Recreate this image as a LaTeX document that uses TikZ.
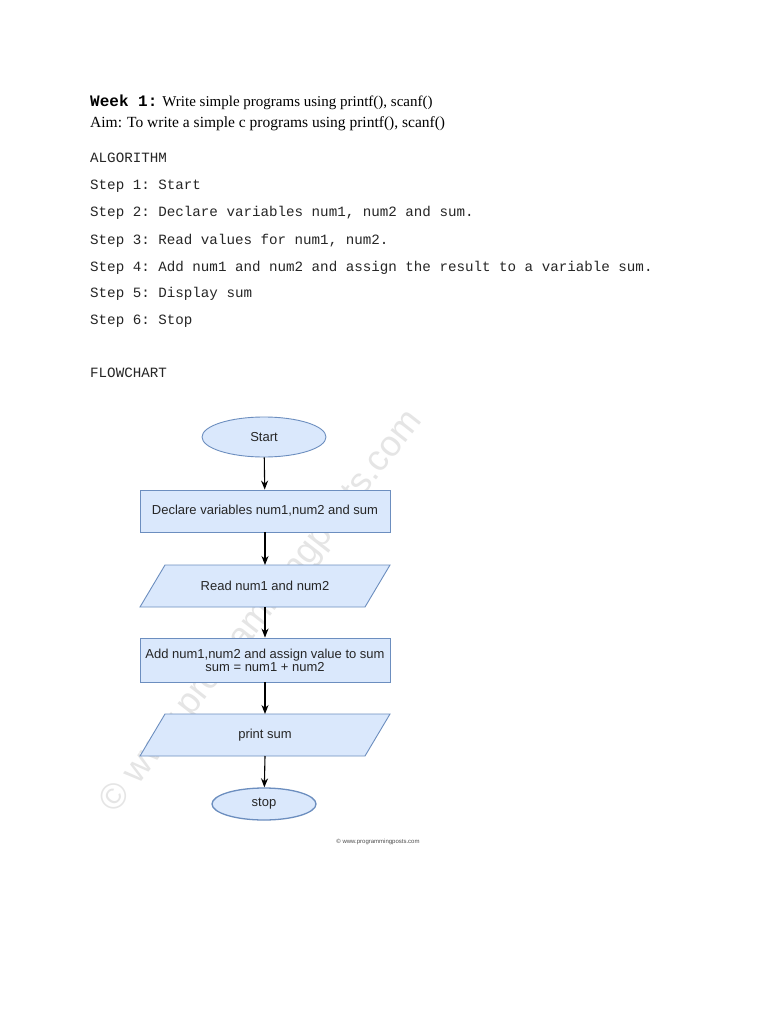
\documentclass[tikz,border=0pt]{standalone}
\usepackage{fontspec}
\setmainfont{Liberation Serif}
\setmonofont{Liberation Mono}
\newfontfamily\arialf{Liberation Sans}
\usetikzlibrary{shapes.geometric,calc,arrows.meta}
\definecolor{fcfill}{HTML}{DAE8FC}
\definecolor{fcdraw}{HTML}{6C8EBF}
\begin{document}
\begin{tikzpicture}[x=1pt,y=-1pt,
  mono/.style={anchor=base west,inner sep=0,font=\ttfamily\fontsize{14.2}{15}\selectfont,text=black!85},
  fc/.style={fill=fcfill,draw=fcdraw,line width=0.9pt},
  lab/.style={font=\arialf\fontsize{13}{15}\selectfont,align=center,text=black!85},
  arr/.style={-{Stealth[length=9pt,width=7pt]},line width=1.1pt}]
\useasboundingbox (0,0) rectangle (768,1024);
\fill[white] (0,0) rectangle (768,1024);
\node[anchor=base west,inner sep=0] (wk) at (90,107) {\textbf{\ttfamily\fontsize{16}{17}\selectfont Week 1:}\ \ {\fontsize{15}{16}\selectfont Write simple programs using printf(), scanf()}};
\node[anchor=base west,inner sep=0,font=\fontsize{15.5}{16}\selectfont] (aim) at (90,128) {Aim: To write a simple c programs using printf(), scanf()};
\node[mono] (alg) at (90,163) {ALGORITHM};
\node[mono] (s1) at (90,190) {Step 1: Start};
\node[mono] (s2) at (90,217) {Step 2: Declare variables num1, num2 and sum.};
\node[mono] (s3) at (90,244) {Step 3: Read values for num1, num2.};
\node[mono] (s4) at (90,271) {Step 4: Add num1 and num2 and assign the result to a variable sum.};
\node[mono] (s5) at (90,297) {Step 5: Display sum};
\node[mono] (s6) at (90,324) {Step 6: Stop};
\node[mono] (fcl) at (90,377) {FLOWCHART};
% watermark
\node[rotate=52,text=black!10,font=\arialf\fontsize{36}{40}\selectfont] (wm) at (262,612) {\textcopyright\ www.programmingposts.com};
% flowchart
\node[fc,ellipse,minimum width=124,minimum height=40,lab] (start) at (264,437) {Start};
\node[fc,rectangle,minimum width=250,minimum height=42,lab] (decl) at (265,511) {Declare variables num1,num2 and sum};
\draw[fc] (165,565) -- (390,565) -- (365,607) -- (140,607) -- cycle;
\node[lab] (read) at (265,586) {Read num1 and num2};
\node[fc,rectangle,minimum width=250,minimum height=44,lab] (add) at (265,660) {Add num1,num2 and assign value to sum\\[-2pt]sum = num1 + num2};
\draw[fc] (165,714) -- (390,714) -- (365,756) -- (140,756) -- cycle;
\node[lab] (prt) at (265,735) {print sum};
\node[fc,ellipse,minimum width=104,minimum height=32,lab,line width=1.3pt] (stop) at (264,804) {stop};
\node[font=\arialf\fontsize{6}{7}\selectfont,text=black!70] (cr) at (378,842) {\textcopyright\ www.programmingposts.com};
\draw[arr] (start) -- (decl);
\draw[arr] (decl) -- (265,565);
\draw[arr] (265,607) -- (add);
\draw[arr] (add) -- (265,714);
\draw[arr] (265,756) -- (stop);
\end{tikzpicture}
\end{document}
